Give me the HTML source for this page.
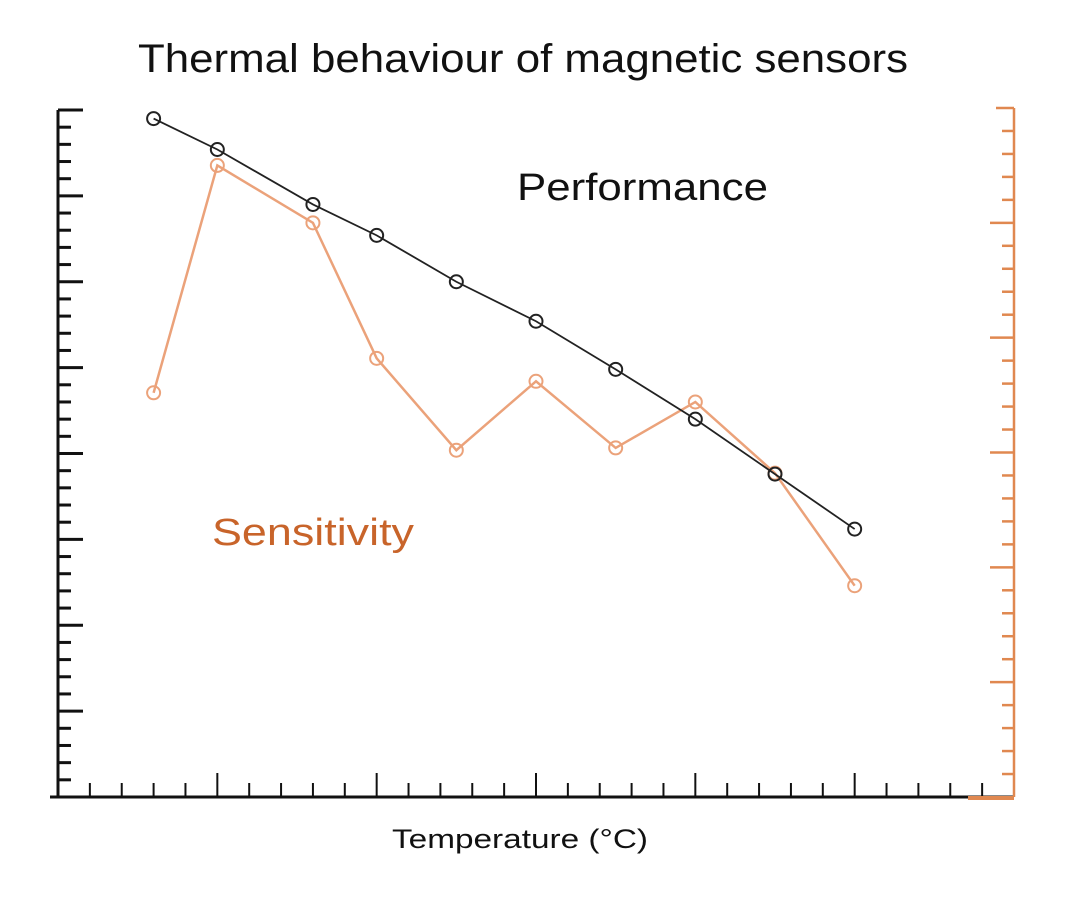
<!DOCTYPE html>
<html><head><meta charset="utf-8"><style>
html,body{margin:0;padding:0;background:#fff;width:1080px;height:900px;overflow:hidden}
svg text{font-family:"Liberation Sans",sans-serif}
</style></head><body>
<svg id="chart" width="1080" height="900" viewBox="0 0 1080 900">
<text x="138" y="72" font-size="40" textLength="770" lengthAdjust="spacingAndGlyphs" fill="#111">Thermal behaviour of magnetic sensors</text>
<text x="517" y="200" font-size="38" textLength="251" lengthAdjust="spacingAndGlyphs" fill="#111">Performance</text>
<text x="212" y="545" font-size="38" textLength="202" lengthAdjust="spacingAndGlyphs" fill="#c8642a">Sensitivity</text>
<text x="392" y="848" font-size="27" textLength="256" lengthAdjust="spacingAndGlyphs" fill="#111">Temperature (°C)</text>
<g id="axes"></g>
<g id="series"></g>
</svg>
<script>
const temps = [3, 5, 8, 10, 12.5, 15, 17.5, 20, 22.5, 25];
const performance = [39.5, 37.7, 34.5, 32.7, 30.0, 27.7, 24.9, 22.0, 18.8, 15.6];
const sensitivity = [17.6, 27.5, 25.0, 19.1, 15.1, 18.1, 15.2, 17.2, 14.1, 9.2];
const xMax = 30, yLeftMax = 40, yRightMax = 30;

const X0 = 58, X1 = 1014, Y0 = 797, YT = 110, YRT = 108;
const sx = v => X0 + (X1 - X0) * v / xMax;
const syL = v => Y0 - (Y0 - YT) * v / yLeftMax;
const syR = v => Y0 - (Y0 - YRT) * v / yRightMax;
const NS = 'http://www.w3.org/2000/svg';
const axes = document.getElementById('axes');
const series = document.getElementById('series');
function mk(tag, attrs, parent) {
  const e = document.createElementNS(NS, tag);
  for (const k in attrs) e.setAttribute(k, attrs[k]);
  parent.appendChild(e);
  return e;
}
let e = mk('line', {x1: X0, y1: YT, x2: X0, y2: Y0, stroke: '#111', 'stroke-width': 3}, axes);


for (let i = 1; i <= yLeftMax; i++) {
  const y = syL(i), len = (i % 5 === 0) ? 25 : 13;
  const t = mk('line', {x1: X0, y1: y, x2: X0 + len, y2: y, stroke: '#111', 'stroke-width': 3}, axes);
  
  
}
e = mk('line', {x1: X0 - 8, y1: Y0, x2: X1, y2: Y0, stroke: '#111', 'stroke-width': 3}, axes);


for (let i = 1; i < xMax; i++) {
  const x = sx(i), len = (i % 5 === 0) ? 24 : 14;
  const t = mk('line', {x1: x, y1: Y0, x2: x, y2: Y0 - len, stroke: '#111', 'stroke-width': 2}, axes);
  
  
}
e = mk('line', {x1: X1, y1: YRT, x2: X1, y2: Y0, stroke: '#e08850', 'stroke-width': 2.5}, axes);


e = mk('line', {x1: 968, y1: Y0 + 1, x2: X1, y2: Y0 + 1, stroke: '#e08850', 'stroke-width': 4}, axes);


for (let i = 1; i <= yRightMax; i++) {
  const y = syR(i), len = (i === yRightMax) ? 18 : (i % 5 === 0 ? 24 : 12);
  const t = mk('line', {x1: X1, y1: y, x2: X1 - len, y2: y, stroke: '#e08850', 'stroke-width': 2.5}, axes);
  
  
}
function drawSeries(vals, sy, color, w, name) {
  const pts = vals.map((v, i) => sx(temps[i]) + ',' + sy(v)).join(' ');
  const pl = mk('polyline', {points: pts, fill: 'none', stroke: color, 'stroke-width': w}, series);
  
  
  vals.forEach((v, i) => {
    const c = mk('circle', {cx: sx(temps[i]), cy: sy(v), r: 6.5, fill: 'none', stroke: color, 'stroke-width': 2}, series);
    
    
  });
}
drawSeries(sensitivity, syR, '#eba27a', 2.5, 'sensitivity');
drawSeries(performance, syL, '#222', 1.8, 'performance');
</script>
</body></html>
